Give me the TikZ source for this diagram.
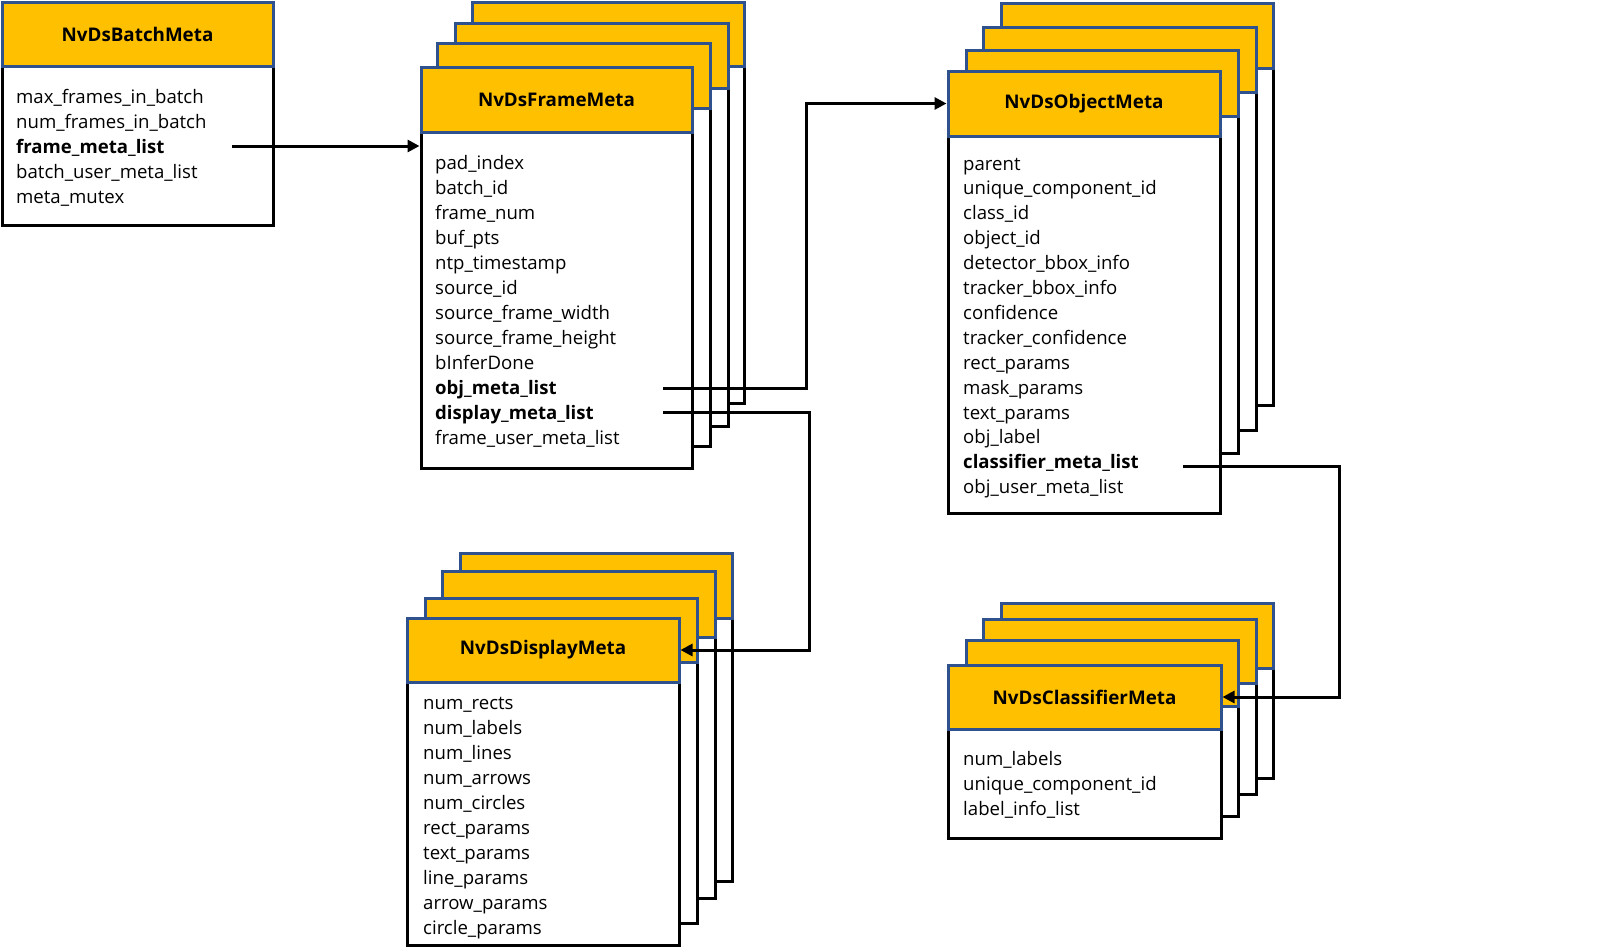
\documentclass[tikz,border=0pt]{standalone}
\usepackage{fontspec}
\setmainfont{Open Sans}
\usetikzlibrary{arrows.meta}
\definecolor{hdrfill}{RGB}{255,192,0}
\definecolor{hdrline}{RGB}{47,82,143}
\newcommand\stacklayer[5]{%
  \draw[bodybox] (#1,#4) rectangle (#2,#5);
  \draw[hdrbox] (#1,#3) rectangle (#2,#4);}
\begin{document}
\begin{tikzpicture}[x=1pt,y=-1pt,
  hdrbox/.style={draw=hdrline, fill=hdrfill, line width=3pt, inner sep=0pt},
  hdr/.style={hdrbox, font=\bfseries\fontsize{18.8}{22}\selectfont},
  bodybox/.style={draw=black, fill=white, line width=3pt, inner sep=0pt},
  fld/.style={anchor=base west, inner sep=0pt, font=\fontsize{18.6}{22}\selectfont},
  conn/.style={line width=3pt, draw=black},
  arr/.style={conn, -{Triangle[length=12pt,width=12pt]}}]
\useasboundingbox (0,0) rectangle (1622,951);

% ---------- NvDsBatchMeta ----------
\node[bodybox, minimum width=271pt, minimum height=159pt] (batchB) at (137.5,145.5) {};
\node[hdr, minimum width=271pt, minimum height=64pt] (batchH) at (137.5,34) {NvDsBatchMeta};
\foreach \t [count=\i] in {max\_frames\_in\_batch, num\_frames\_in\_batch, \textbf{frame\_meta\_list}, batch\_user\_meta\_list, meta\_mutex}
  \node[fld] (batch-\i) at (16,{103+25*(\i-1)}) {\t};

% ---------- NvDsFrameMeta ----------
\stacklayer{472}{744}{2}{66}{403}
\stacklayer{455}{728}{23}{88}{426}
\stacklayer{437}{710}{43}{108}{446}
\node[bodybox, minimum width=271pt, minimum height=336pt] (frameB) at (556.5,300) {};
\node[hdr, minimum width=271pt, minimum height=65pt] (frameH) at (556.5,99.5) {NvDsFrameMeta};
\foreach \t [count=\i] in {pad\_index, batch\_id, frame\_num, buf\_pts, ntp\_timestamp, source\_id, source\_frame\_width, source\_frame\_height, bInferDone, \textbf{obj\_meta\_list}, \textbf{display\_meta\_list}, frame\_user\_meta\_list}
  \node[fld] (frame-\i) at (435,{169+25*(\i-1)}) {\t};

% ---------- NvDsObjectMeta ----------
\stacklayer{1001}{1273}{3}{68}{405}
\stacklayer{983}{1256}{27}{92}{430}
\stacklayer{966}{1238}{50}{116}{453}
\node[bodybox, minimum width=272pt, minimum height=377pt] (objB) at (1084,324.5) {};
\node[hdr, minimum width=272pt, minimum height=65pt] (objH) at (1084,103.5) {NvDsObjectMeta};
\foreach \t [count=\i] in {parent, unique\_component\_id, class\_id, object\_id, detector\_bbox\_info, tracker\_bbox\_info, confidence, tracker\_confidence, rect\_params, mask\_params, text\_params, obj\_label, \textbf{classifier\_meta\_list}, obj\_user\_meta\_list}
  \node[fld] (obj-\i) at (963,{170+24.9*(\i-1)}) {\t};

% ---------- NvDsDisplayMeta ----------
\stacklayer{460}{732}{553}{618}{881}
\stacklayer{442}{715}{571}{637}{898}
\stacklayer{425}{697}{598}{662}{923}
\node[bodybox, minimum width=272pt, minimum height=263pt] (dispB) at (543,813.5) {};
\node[hdr, minimum width=272pt, minimum height=64pt] (dispH) at (543,650) {NvDsDisplayMeta};
\foreach \t [count=\i] in {num\_rects, num\_labels, num\_lines, num\_arrows, num\_circles, rect\_params, text\_params, line\_params, arrow\_params, circle\_params}
  \node[fld] (disp-\i) at (423,{709+25*(\i-1)}) {\t};

% ---------- NvDsClassifierMeta ----------
\stacklayer{1001}{1273}{603}{668}{778}
\stacklayer{983}{1256}{619}{683}{794}
\stacklayer{966}{1238}{640}{706}{816}
\node[bodybox, minimum width=273pt, minimum height=109pt] (clsB) at (1084.5,783.5) {};
\node[hdr, minimum width=273pt, minimum height=64pt] (clsH) at (1084.5,697) {NvDsClassifierMeta};
\foreach \t [count=\i] in {num\_labels, unique\_component\_id, label\_info\_list}
  \node[fld] (cls-\i) at (963,{765+25*(\i-1)}) {\t};

% ---------- connectors ----------
\coordinate (fmlS) at (232,146);
\coordinate (omlS) at (663,388);
\coordinate (omlT) at (806,388);
\coordinate (dmlS) at (663,412);
\coordinate (dmlT) at (809,412);
\coordinate (cmlS) at (1183,466);
\coordinate (cmlT) at (1339,466);
\draw[arr] (fmlS) -- (frameB.west |- fmlS);
\draw[arr] (omlS) -- (omlT) |- (objH.west);
\draw[arr] (dmlS) -- (dmlT) |- (dispH.east);
\draw[arr] (cmlS) -- (cmlT) |- (clsH.east);
\end{tikzpicture}
\end{document}
